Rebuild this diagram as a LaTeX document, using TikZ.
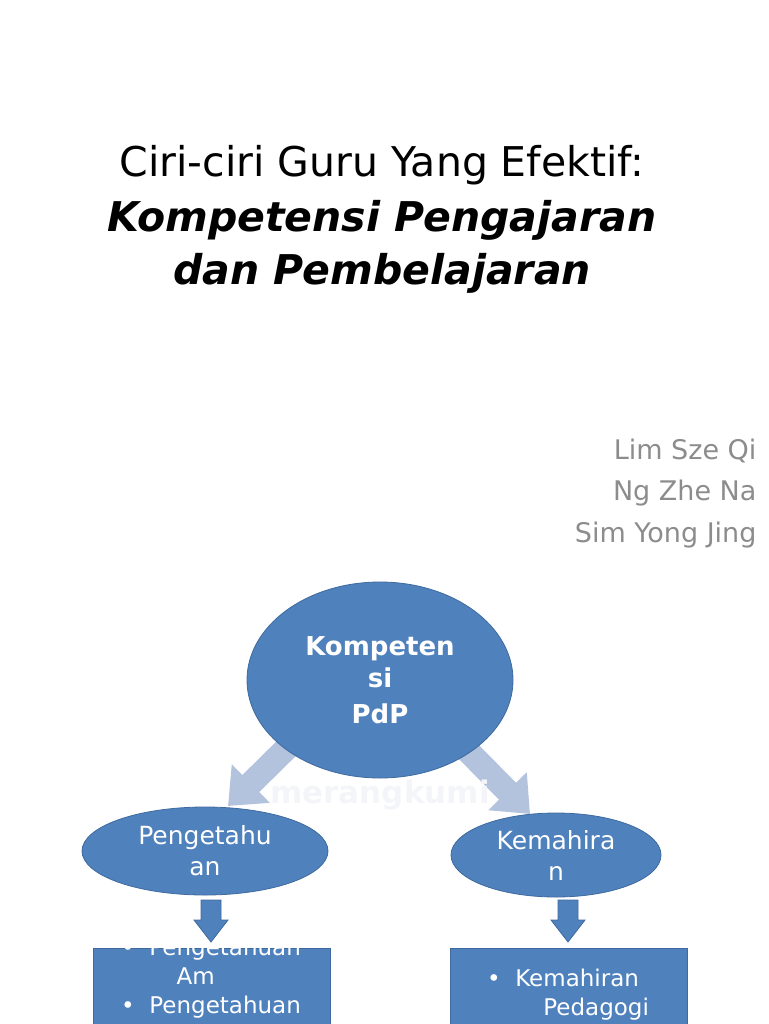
\documentclass[tikz,border=0pt]{standalone}
\usepackage{fontspec}
\setmainfont{DejaVu Sans}
\usetikzlibrary{arrows.meta,shapes.geometric}
\definecolor{pblue}{HTML}{4F81BD}
\definecolor{pedge}{HTML}{3F6A9E}
\definecolor{lblue}{HTML}{B3C2DD}
\definecolor{agrey}{HTML}{8C8C8C}
\definecolor{faint}{HTML}{F3F5F9}
\tikzset{
 oval/.style={ellipse,draw=pedge,fill=pblue,line width=0.8pt,text=white,font=\fontsize{26}{32}\selectfont\bfseries,align=center,inner sep=0pt},
 oval2/.style={ellipse,draw=pedge,fill=pblue,line width=0.8pt,text=white,font=\fontsize{25}{31}\selectfont,align=center,inner sep=0pt},
 bigarr/.style={lblue,line width=24pt,-{Triangle[width=52pt,length=32pt]}},
 smallarr/.style={draw=pedge,fill=pblue,line width=0.8pt},
 box/.style={draw=pedge,fill=pblue,line width=0.8pt},
 boxtext/.style={text=white,font=\fontsize{23}{29}\selectfont,align=left,anchor=north}
}
\begin{document}
\begin{tikzpicture}[x=1pt,y=-1pt]
\useasboundingbox (0,0) rectangle (768,1024);
\clip (0,0) rectangle (768,1024);
\node (t1) at (382,165) {\fontsize{41}{48}\selectfont Ciri-ciri Guru Yang Efektif:};
\node (t2) at (382,220) {\fontsize{41}{48}\selectfont\bfseries\itshape Kompetensi Pengajaran};
\node (t3) at (382,273) {\fontsize{41}{48}\selectfont\bfseries\itshape dan Pembelajaran};
\node[anchor=east,text=agrey,font=\fontsize{27}{32}\selectfont] (a1) at (760,451) {Lim Sze Qi};
\node[anchor=east,text=agrey,font=\fontsize{27}{32}\selectfont] (a2) at (760,493) {Ng Zhe Na};
\node[anchor=east,text=agrey,font=\fontsize{27}{32}\selectfont] (a3) at (760,535) {Sim Yong Jing};
% boxes
\draw[box] (93,948) rectangle (330,1100);
\draw[box] (450,948) rectangle (687,1100);
\node[boxtext] (b1t) at (211,934) {•\ \ Pengetahuan\\ \phantom{•\ \ Pe}Am\\ •\ \ Pengetahuan};
\node[boxtext] (b2t) at (568,965) {•\ \ Kemahiran\\ \phantom{•\ \ Ke}Pedagogi};
% small arrows
\draw[smallarr] (201,900) -- (221,900) -- (221,920) -- (228,920) -- (211,942) -- (194,920) -- (201,920) -- cycle;
\draw[smallarr] (558,900) -- (578,900) -- (578,920) -- (585,920) -- (568,942) -- (551,920) -- (558,920) -- cycle;
% big arrows
\coordinate (ls) at (297,738);
\coordinate (le) at (228,806);
\coordinate (rs) at (457,740);
\coordinate (re) at (530,814);
\draw[bigarr] (ls) -- (le);
\draw[bigarr] (rs) -- (re);
\node[oval,minimum width=266pt,minimum height=196pt] (main) at (380,680) {Kompeten\\si\\[4pt]PdP};
\node[text=faint,font=\fontsize{31}{36}\selectfont\bfseries] (m) at (380,795) {merangkumi};
\node[oval2,minimum width=246pt,minimum height=88pt] (k1) at (205,851) {Pengetahu\\an};
\node[oval2,minimum width=210pt,minimum height=84pt] (k2) at (556,855) {Kemahira\\n};
\end{tikzpicture}
\end{document}
